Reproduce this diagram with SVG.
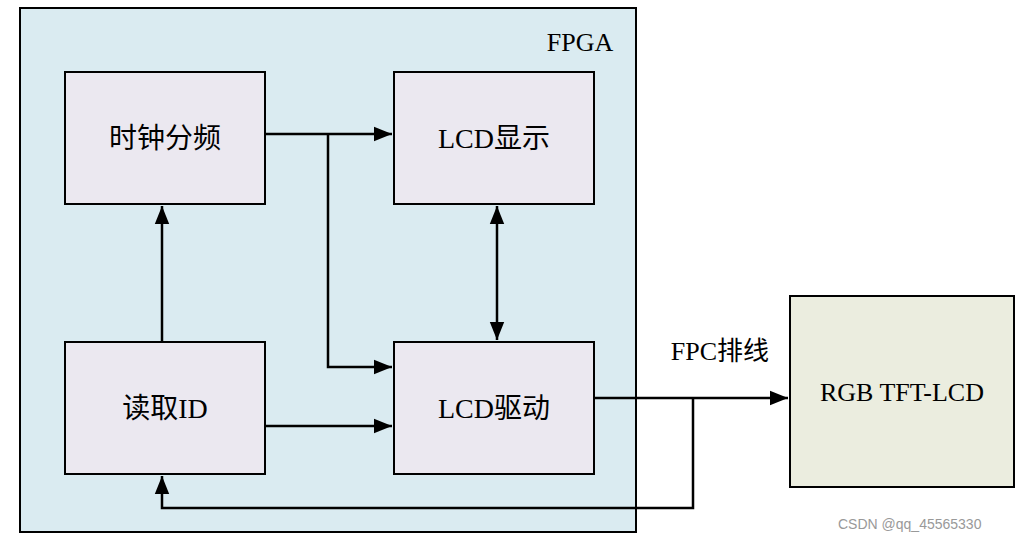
<svg xmlns="http://www.w3.org/2000/svg" width="1022" height="542" viewBox="0 0 1022 542">
<style>
.n{fill:#ebe8f0;stroke:#000;stroke-width:2}
.t{font-family:"Liberation Serif","Noto Sans CJK SC",serif;font-size:28px;fill:#000;text-anchor:middle;dominant-baseline:central}
.c{fill:none;stroke:#000;stroke-width:2.5}
</style>
<defs>
<marker id="a" viewBox="0 0 10 10" refX="10" refY="5" markerWidth="7" markerHeight="7" orient="auto-start-reverse" markerUnits="userSpaceOnUse"><path d="M0,0L10,5L0,10z" fill="#000"/></marker>
<marker id="b" viewBox="0 0 10 10" refX="10" refY="5" markerWidth="18" markerHeight="18" orient="auto-start-reverse" markerUnits="userSpaceOnUse"><path d="M0,1L10,5L0,9z" fill="#000"/></marker>
</defs>
<rect width="1022" height="542" fill="#fff"/>
<g id="fpga"><rect x="20" y="8" width="616" height="524" fill="#daebf1" stroke="#000" stroke-width="2"/>
<text x="580" y="42" class="t" style="font-size:26px">FPGA</text></g>
<g id="clk"><rect class="n" x="65" y="72" width="200" height="132"/><text class="t" x="165" y="138">时钟分频</text></g>
<g id="disp"><rect class="n" x="394" y="72" width="200" height="132"/><text class="t" x="494" y="138">LCD显示</text></g>
<g id="rid"><rect class="n" x="65" y="342" width="200" height="132"/><text class="t" x="165" y="408">读取ID</text></g>
<g id="drv"><rect class="n" x="394" y="342" width="200" height="132"/><text class="t" x="494" y="408">LCD驱动</text></g>
<g id="rgb"><rect x="790" y="296" width="224" height="191" fill="#ebeddf" stroke="#000" stroke-width="2"/><text class="t" x="902" y="392" style="font-size:26px">RGB TFT-LCD</text></g>
<g id="connectors">
<path class="c" d="M265,134H392" marker-end="url(#b)"/>
<path class="c" d="M328,134V367H392" marker-end="url(#b)"/>
<path class="c" d="M162,342V206" marker-end="url(#b)"/>
<path class="c" d="M497,206V340" marker-start="url(#b)" marker-end="url(#b)"/>
<path class="c" d="M265,426H392" marker-end="url(#b)"/>
<path class="c" d="M594,398H788" marker-end="url(#b)"/>
<path class="c" d="M693,398V508H162V476" marker-end="url(#b)"/>
</g>
<text class="t" x="720" y="351" style="font-size:26px">FPC排线</text>
<text x="838" y="529" style="font-family:'Liberation Sans',sans-serif;font-size:14px;fill:#999">CSDN @qq_45565330</text>
</svg>
